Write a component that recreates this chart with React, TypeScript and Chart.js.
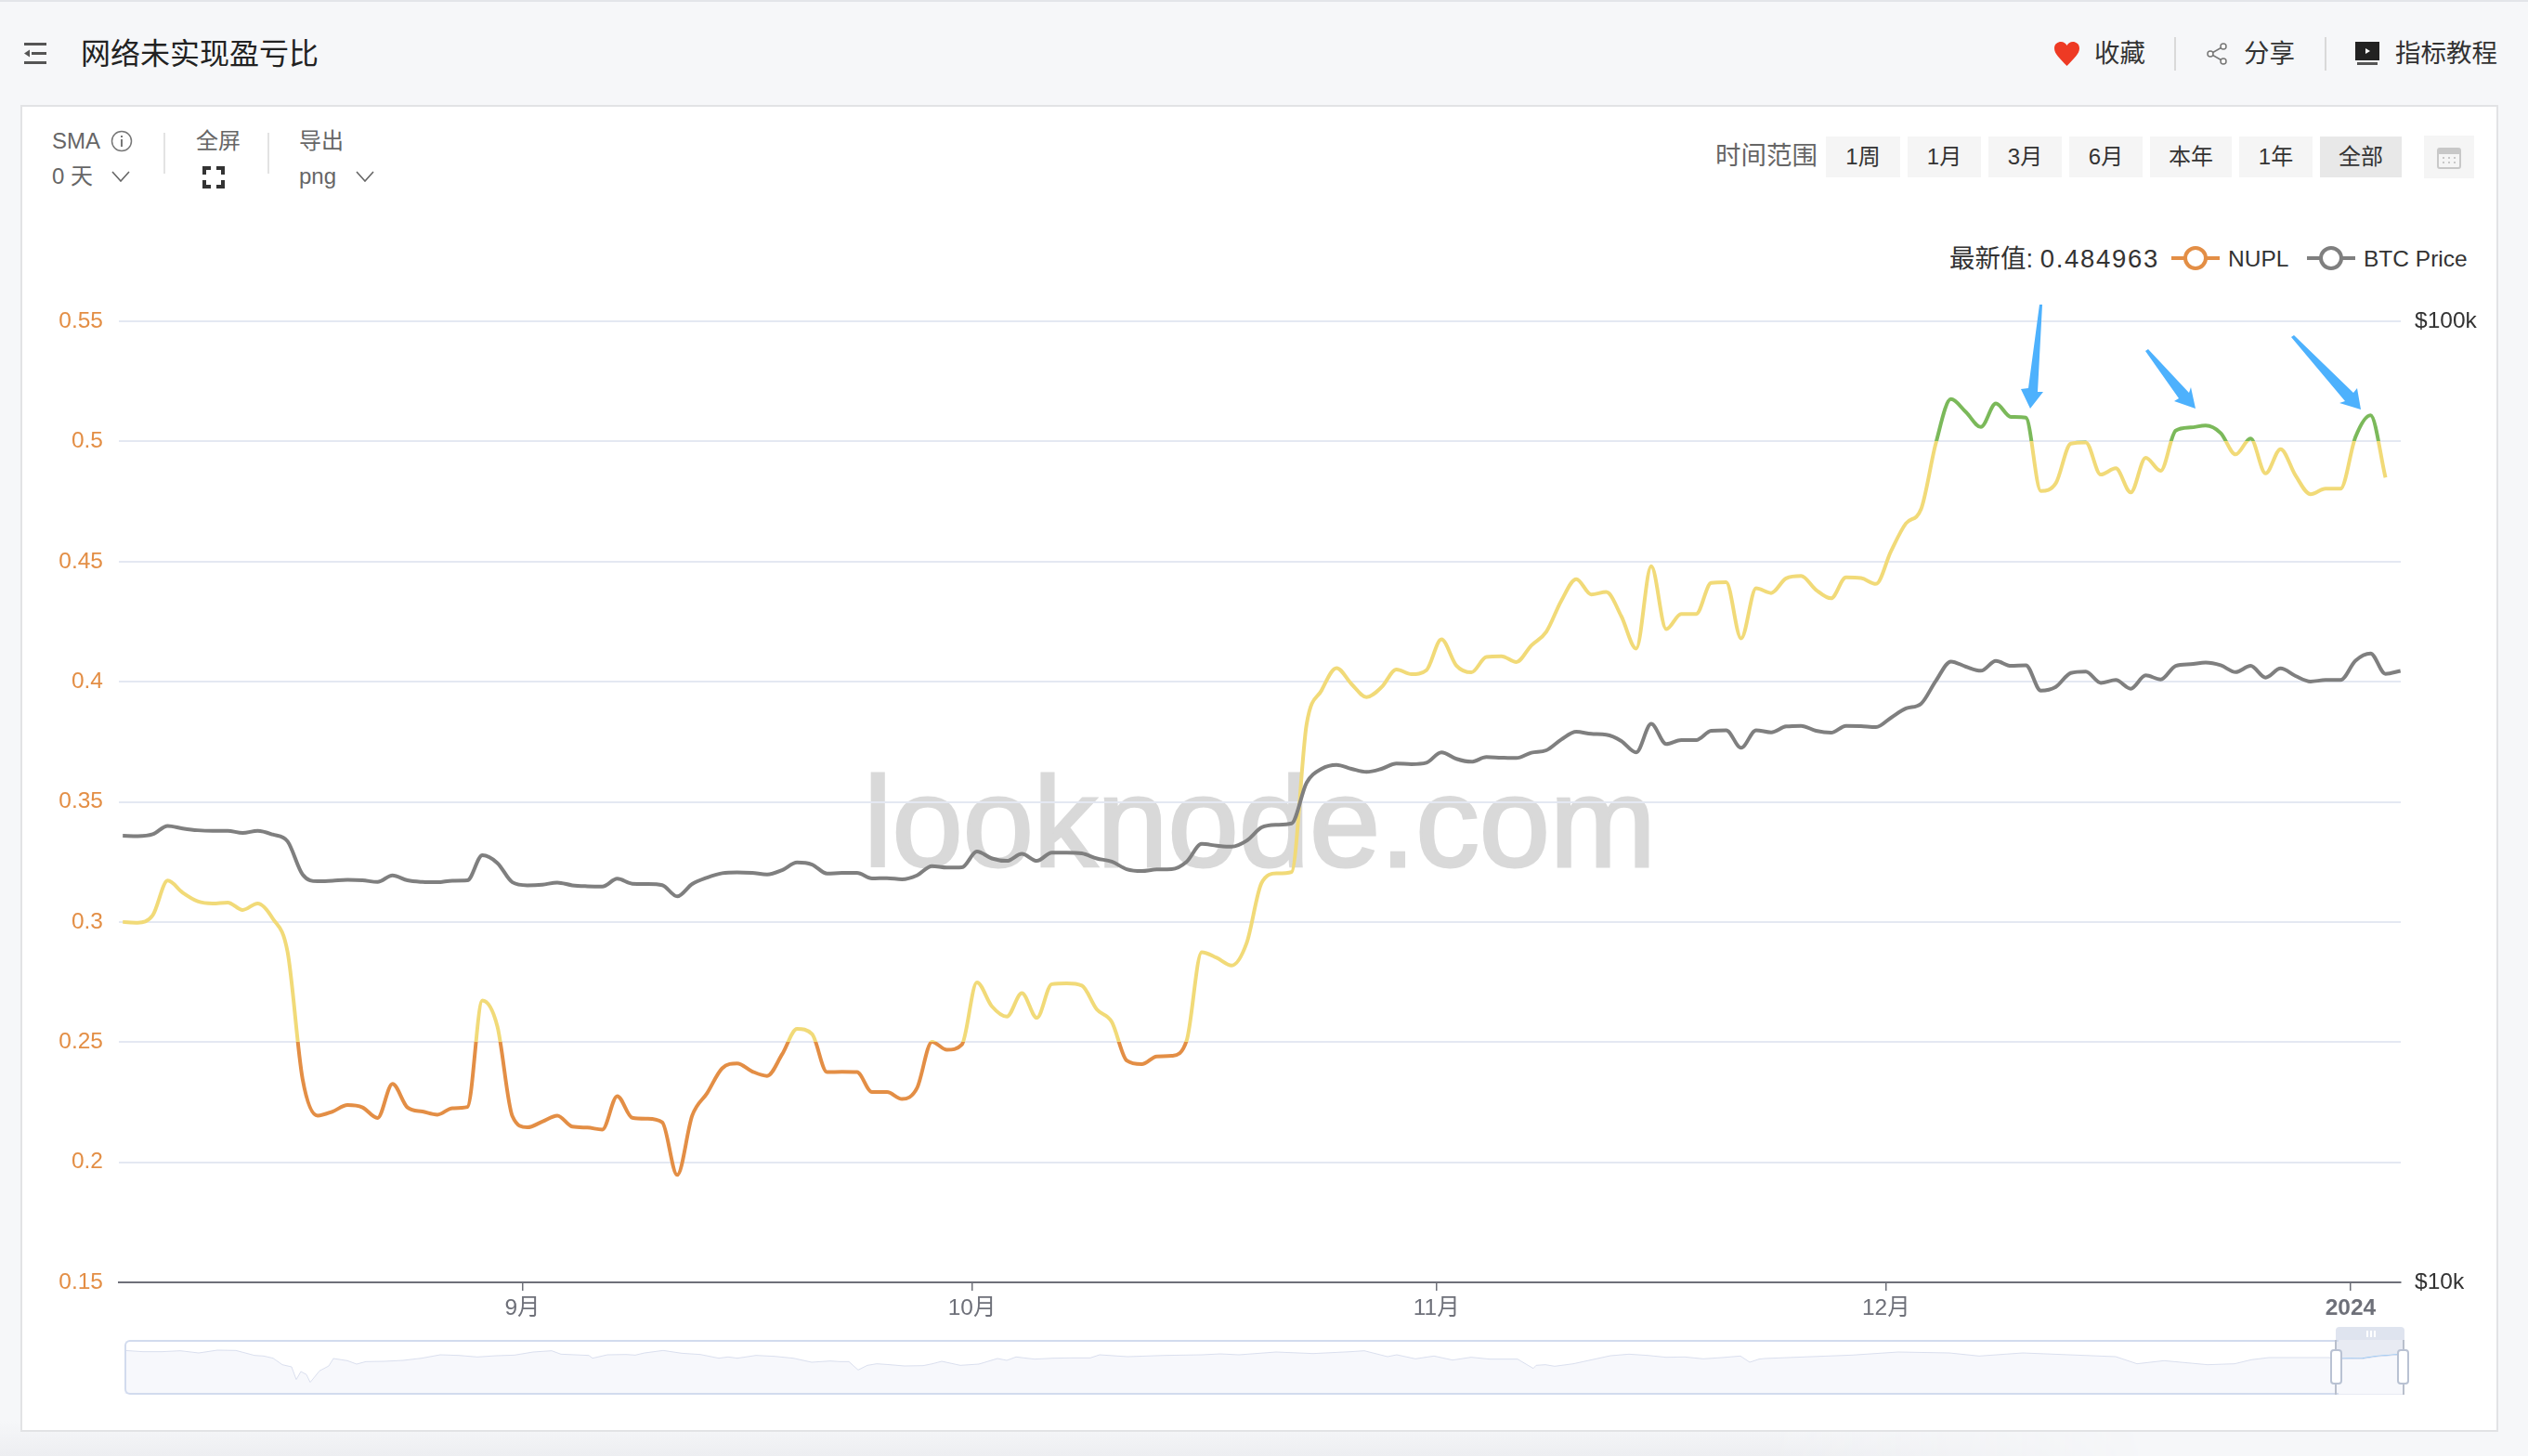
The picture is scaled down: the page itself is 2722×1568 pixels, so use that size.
import React, { useEffect, useRef } from 'react';
import { Chart, registerables } from 'chart.js';

Chart.register(...registerables);

const FONT = '"Liberation Sans", "Noto Sans CJK SC", sans-serif';

// daily data, first point is 27 days before 1 Sep 2023
const firstDay = -27;
const nuplValues = [
  0.3, 0.2997, 0.3028, 0.3172, 0.3122, 0.3086, 0.3077, 0.3081, 0.305, 0.3077, 0.3015, 0.2874, 0.2346, 0.2194, 0.2211,
  0.2238, 0.2228, 0.2184, 0.2326, 0.2228, 0.2211, 0.2198, 0.2225, 0.223, 0.2673, 0.2565, 0.2192,
  0.2145, 0.2169, 0.2194, 0.2148, 0.2144, 0.2136, 0.2275, 0.2185, 0.2181, 0.2166, 0.1947, 0.2194, 0.2288, 0.2391, 0.2411,
  0.2378, 0.2359, 0.2449, 0.2555, 0.2533, 0.2375, 0.2376, 0.2375, 0.2292, 0.2292, 0.2263, 0.2308, 0.2501, 0.2468, 0.249,
  0.2748, 0.2649, 0.2606, 0.2704, 0.2601, 0.2741, 0.2744, 0.2735, 0.2636, 0.2584, 0.2423, 0.2408, 0.244, 0.2443, 0.2507,
  0.2874, 0.2851, 0.2819, 0.2912, 0.3163, 0.3202, 0.3208,
  0.3822, 0.3964, 0.4057, 0.399, 0.3936, 0.3977, 0.4051, 0.4031, 0.4048, 0.4176, 0.4067, 0.4039, 0.4103, 0.4106, 0.4082,
  0.4151, 0.4208, 0.4337, 0.4427, 0.4363, 0.4373, 0.4273, 0.4138, 0.4481, 0.4219, 0.4282, 0.4282, 0.4411, 0.4414, 0.418,
  0.4389, 0.4369, 0.443, 0.444, 0.4382, 0.4347, 0.4434, 0.4431, 0.4407, 0.4543,
  0.4659, 0.4717, 0.4994, 0.5176, 0.5122, 0.506, 0.5158, 0.5102, 0.5099, 0.4794, 0.4826, 0.4991, 0.4996, 0.4862, 0.4888,
  0.4788, 0.4932, 0.4878, 0.5045, 0.5058, 0.5066, 0.5035, 0.4946, 0.5012, 0.4867, 0.4968, 0.4858, 0.478, 0.4803, 0.4803,
  0.5019, 0.5109, 0.484963,
];
const btcValues = [
  29150, 29130, 29260, 29850, 29670, 29540, 29500, 29500, 29350, 29500, 29240, 28760, 26570, 26140, 26180, 26230, 26200,
  26100, 26510, 26200, 26100, 26080, 26180, 26200, 27820, 27310, 26080,
  25890, 25930, 26060, 25890, 25830, 25810, 26300, 25990, 25970, 25900, 25210, 25970, 26375, 26650, 26710,
  26670, 26570, 26850, 27350, 27210, 26630, 26670, 26670, 26320, 26340, 26260, 26510, 27110, 27010, 27030,
  28070, 27610, 27450, 27920, 27450, 28000, 28000, 27950, 27610, 27400, 26910, 26790, 26890, 26910, 27400,
  28590, 28470, 28400, 28810, 29740, 29930, 30030,
  33100, 34220, 34550, 34220, 33970, 34220, 34660, 34610, 34730, 35600, 35050, 34810, 35200, 35150, 35120,
  35570, 35780, 36720, 37410, 37210, 37130, 36590, 35600, 38110, 36320, 36670, 36670, 37490, 37540, 35990,
  37540, 37350, 37880, 37940, 37490, 37320, 37940, 37910, 37820, 38680,
  39550, 39990, 42270, 44260, 43710, 43290, 44320, 43800, 43860, 41280, 41650, 43060, 43210, 42050, 42340,
  41470, 42810, 42400, 43800, 43980, 44150, 43860, 43150, 43800, 42590, 43530, 42750, 42190, 42340, 42340,
  44350, 45120, 42970, 43280,
];
const monthTickDays = [0, 30, 61, 91, 122];
const monthTickLabels = ['9月', '10月', '11月', '12月', '2024'];
const priceTicks = [10000, 100000];
const priceTickLabels = ['$10k', '$100k'];

// whole-history strip under the chart
const overviewSteps = [
  0, 2, 4, 6, 8, 10, 12, 14, 15, 16, 17, 18, 18.5, 19, 19.6, 20, 21, 22, 22.5, 24, 25, 26, 28, 30, 32, 34, 36, 38, 40, 42, 44,
  46, 47, 50, 50.4, 52, 54, 55, 56, 58, 60, 62, 64, 65, 66, 68, 70, 72, 74, 76, 77, 78, 79, 80, 81, 82, 84, 86, 87, 88, 90,
  92, 94, 95, 96, 98, 100, 102, 104, 105, 108, 112, 116, 118, 120, 124, 128, 132, 133.5, 136, 137, 139, 141, 143, 145, 147,
  150, 151.7, 152, 153, 154, 156, 158, 160, 162, 164, 166, 168, 170, 172, 174, 175, 176, 176.6, 181.6, 186, 191, 196.5,
  199.7, 204.4, 214.4, 216.7, 219.6, 224.3, 227.2, 229, 230.9, 237.4, 238, 241, 242.5, 245.4,
];
const overviewLevels = [
  140, 136, 136, 139, 132, 141, 140, 124, 122, 115, 94, 87, 46, 72, 62, 37, 74, 90, 114, 107, 96, 104, 105, 108, 115, 126, 124,
  119, 123, 125, 135, 139, 128, 124, 115, 126, 127, 125, 132, 140, 131, 127, 115, 119, 115, 124, 121, 115, 102, 106, 104, 104,
  77, 92, 97, 95, 90, 91, 97, 105, 92, 96, 114, 108, 119, 112, 115, 116, 116, 126, 120, 124, 126, 129, 126, 135, 130, 136, 139,
  120, 126, 113, 122, 109, 118, 112, 112, 82, 92, 94, 89, 97, 110, 123, 128, 124, 118, 119, 113, 117, 122, 102, 112, 114, 120,
  125, 135, 132, 122, 132, 120, 97, 107, 94, 97, 110, 117, 117, 112, 113, 120, 127,
];
const selectedFromStep = 238;

const rangeButtons = [
  { label: '1周', left: 1966, width: 80 },
  { label: '1月', left: 2054, width: 79 },
  { label: '3月', left: 2141, width: 79 },
  { label: '6月', left: 2228, width: 79 },
  { label: '本年', left: 2315, width: 88 },
  { label: '1年', left: 2411, width: 79 },
  { label: '全部', left: 2498, width: 88 },
];

const arrows = [
  '2196,328 2199,328 2194,422 2200,422 2186,440 2176,419 2184,418',
  '2310,378 2313,376 2357,423 2359,417 2364,440 2341,432 2346,429',
  '2467,363 2470,361 2534,423 2538,418 2542,441 2519,434 2525,432',
];

function Label({ x, y, size = 24, color = '#333', children, center }: any) {
  return (
    <span
      style={{
        position: 'absolute',
        left: x,
        top: y,
        fontSize: size,
        color,
        whiteSpace: 'nowrap',
        lineHeight: 1,
        transform: center ? 'translate(-50%, -50%)' : 'translateY(-50%)',
      }}
    >
      {children}
    </span>
  );
}

function Divider({ x, top, height, color = '#D9D9D9' }: any) {
  return <div style={{ position: 'absolute', left: x, top, width: 2, height, background: color }} />;
}

function Chevron({ x, y }: any) {
  return (
    <svg style={{ position: 'absolute', left: x, top: y }} width="20" height="12">
      <path d="M1 1 L10 11 L19 1" fill="none" stroke="#666" strokeWidth="1.6" />
    </svg>
  );
}

function LegendIcon({ x, color }: any) {
  return (
    <svg style={{ position: 'absolute', left: x, top: 264 }} width="52" height="28">
      <line x1="0" y1="14" x2="52" y2="14" stroke={color} strokeWidth="4" />
      <circle cx="26" cy="14" r="11" fill="#fff" stroke={color} strokeWidth="4" />
    </svg>
  );
}

function useMainChart(ref: React.RefObject<HTMLCanvasElement | null>) {
  useEffect(() => {
    if (!ref.current) return;
    const toPoints = (values: number[]) => values.map((y, i) => ({ x: firstDay + i + 0.33, y }));

    const chart = new Chart(ref.current, {
      type: 'line',
      data: {
        datasets: [
          {
            label: 'BTC Price',
            data: toPoints(btcValues),
            yAxisID: 'y1',
            borderColor: '#7F7F7F',
            borderWidth: 4,
            pointRadius: 0,
            cubicInterpolationMode: 'monotone',
            order: 0,
          },
          {
            label: 'NUPL',
            data: toPoints(nuplValues),
            yAxisID: 'y',
            // hard colour bands at 0.25 and 0.5
            borderColor: (c: any) => {
              const { chart: ch } = c;
              if (!ch.chartArea) return '#F2DA73';
              const y = ch.scales.y;
              const top = ch.chartArea.top;
              const h = ch.chartArea.bottom - top;
              const at5 = (y.getPixelForValue(0.5) - top) / h;
              const at25 = (y.getPixelForValue(0.25) - top) / h;
              const g = ch.ctx.createLinearGradient(0, top, 0, ch.chartArea.bottom);
              g.addColorStop(0, '#7BB95A');
              g.addColorStop(at5, '#7BB95A');
              g.addColorStop(at5, '#F1DA78');
              g.addColorStop(at25, '#F1DA78');
              g.addColorStop(at25, '#E38E45');
              g.addColorStop(1, '#E38E45');
              return g;
            },
            borderWidth: 4,
            pointRadius: 0,
            cubicInterpolationMode: 'monotone',
            order: 1,
          },
        ],
      },
      options: {
        responsive: false,
        animation: false,
        devicePixelRatio: 1,
        layout: { padding: { top: 346, left: 0, right: 0, bottom: 0 } },
        plugins: { legend: { display: false }, tooltip: { enabled: false } },
        scales: {
          x: {
            type: 'linear',
            min: -26.93,
            max: 125.35,
            afterFit: (s: any) => { s.height = 187; },
            afterBuildTicks: (s: any) => { s.ticks = monthTickDays.map((value) => ({ value })); },
            border: { color: '#6E7079', width: 2 },
            grid: { drawOnChartArea: false, drawTicks: true, tickLength: 9, tickColor: '#6E7079', lineWidth: 1.5 },
            ticks: {
              autoSkip: false,
              maxRotation: 0,
              padding: 5,
              color: '#6E7079',
              font: (c: any) => ({ family: FONT, size: 24.5, weight: c.index === 4 ? 'bold' : 'normal' }),
              callback: (_v: any, i: number) => monthTickLabels[i],
            },
          },
          y: {
            min: 0.15,
            max: 0.55,
            afterFit: (s: any) => { s.width = 128; },
            border: { display: false },
            grid: { color: '#E4E8F2', lineWidth: 2, drawTicks: false },
            ticks: {
              stepSize: 0.05,
              padding: 17,
              color: '#E38E45',
              font: { family: FONT, size: 24.5 },
              callback: (v: any) => String(Number(Number(v).toFixed(2))),
            },
          },
          y1: {
            type: 'logarithmic',
            position: 'right',
            min: 10000,
            max: 100000,
            afterFit: (s: any) => { s.width = 137; },
            afterBuildTicks: (s: any) => { s.ticks = priceTicks.map((value) => ({ value })); },
            border: { display: false },
            grid: { drawOnChartArea: false, drawTicks: false },
            ticks: {
              padding: 15,
              color: '#333',
              font: { family: FONT, size: 24.5 },
              callback: (_v: any, i: number) => priceTickLabels[i],
            },
          },
        },
      },
    });
    return () => chart.destroy();
  }, []);
}

function useOverviewChart(ref: React.RefObject<HTMLCanvasElement | null>) {
  useEffect(() => {
    if (!ref.current) return;
    const points = overviewSteps.map((x, i) => ({ x, y: overviewLevels[i] }));
    const chart = new Chart(ref.current, {
      type: 'line',
      data: {
        datasets: [
          {
            data: points,
            borderColor: '#DADFEE',
            borderWidth: 1,
            backgroundColor: '#F7F8FC',
            fill: 'origin',
            pointRadius: 0,
            tension: 0,
          },
          {
            data: points.filter((p) => p.x >= selectedFromStep),
            borderColor: '#7CBCF5',
            borderWidth: 2,
            backgroundColor: '#CFDAEE',
            fill: 'origin',
            pointRadius: 0,
            tension: 0,
          },
        ],
      },
      options: {
        responsive: false,
        animation: false,
        devicePixelRatio: 1,
        plugins: { legend: { display: false }, tooltip: { enabled: false } },
        scales: {
          x: { type: 'linear', min: 0, max: 245.4, display: false },
          y: { min: 0, max: 174, display: false },
        },
      },
    });
    return () => chart.destroy();
  }, []);
}

export default function App() {
  const mainRef = useRef<HTMLCanvasElement>(null);
  const overviewRef = useRef<HTMLCanvasElement>(null);
  useMainChart(mainRef);
  useOverviewChart(overviewRef);

  return (
    <div style={{ position: 'relative', width: 2722, height: 1568, overflow: 'hidden', background: '#F6F7F9', fontFamily: FONT }}>
      <style>{'body{margin:0}'}</style>
      <div style={{ position: 'absolute', left: 0, top: 0, width: 2722, height: 2, background: '#E3E5E9' }} />
      <div
        style={{
          position: 'absolute',
          left: 0,
          top: 1530,
          width: 2722,
          height: 38,
          background: 'linear-gradient(to bottom, #F6F7F9, #EDEEF1)',
          WebkitMaskImage: 'linear-gradient(to right, #000 70%, transparent 85%)',
        }}
      />

      {/* header */}
      <svg style={{ position: 'absolute', left: 26, top: 45 }} width="24" height="26">
        <rect x="0" y="1" width="24" height="3" fill="#555" />
        <rect x="8" y="11" width="16" height="3" fill="#555" />
        <rect x="0" y="21" width="24" height="3" fill="#555" />
        <path d="M0 12.5 L6 8.5 L6 16.5 Z" fill="#555" />
      </svg>
      <Label x={87} y={58} size={32} color="#222">网络未实现盈亏比</Label>

      <svg style={{ position: 'absolute', left: 2212, top: 45 }} width="27" height="26" viewBox="0 0 27 26">
        <path d="M13.5 26 C6 18 0 13 0 7 C0 2 4 0 7 0 C10 0 12.5 2 13.5 4 C14.5 2 17 0 20 0 C23 0 27 2 27 7 C27 13 21 18 13.5 26 Z" fill="#EE3A24" />
      </svg>
      <Label x={2255} y={58} size={27.5}>收藏</Label>
      <Divider x={2341} top={40} height={36} />
      <svg style={{ position: 'absolute', left: 2376, top: 46 }} width="22" height="24">
        <path d="M18 4 L4 12 L18 20" fill="none" stroke="#777" strokeWidth="1.5" />
        <circle cx="18" cy="4" r="3" fill="#fff" stroke="#777" strokeWidth="1.5" />
        <circle cx="4" cy="12" r="3" fill="#fff" stroke="#777" strokeWidth="1.5" />
        <circle cx="18" cy="20" r="3" fill="#fff" stroke="#777" strokeWidth="1.5" />
      </svg>
      <Label x={2416} y={58} size={27.5}>分享</Label>
      <Divider x={2503} top={40} height={36} />
      <svg style={{ position: 'absolute', left: 2536, top: 45 }} width="26" height="26">
        <rect x="0" y="0" width="26" height="20" fill="#222" />
        <rect x="2" y="22" width="22" height="3" fill="#555" />
        <path d="M11 7 L16 10 L11 13 Z" fill="#fff" />
      </svg>
      <Label x={2579} y={58} size={27.5}>指标教程</Label>

      {/* panel */}
      <div style={{ position: 'absolute', left: 22, top: 113, width: 2664, height: 1425, background: '#fff', border: '2px solid #E2E3E5' }} />

      <Label x={56} y={152} color="#666">SMA</Label>
      <svg style={{ position: 'absolute', left: 119, top: 140 }} width="24" height="24">
        <circle cx="12" cy="12" r="10.5" fill="none" stroke="#777" strokeWidth="1.5" />
        <rect x="11" y="10" width="2" height="8" fill="#777" />
        <rect x="11" y="6" width="2" height="2" fill="#777" />
      </svg>
      <Label x={56} y={190} color="#666">0 天</Label>
      <Chevron x={120} y={184} />
      <Divider x={176} top={143} height={44} color="#E3E3E3" />
      <Label x={211} y={152} color="#666">全屏</Label>
      <svg style={{ position: 'absolute', left: 218, top: 179 }} width="24" height="24">
        <path d="M2 9 V2 H9 M15 2 H22 V9 M22 15 V22 H15 M9 22 H2 V15" fill="none" stroke="#333" strokeWidth="4" />
      </svg>
      <Divider x={288} top={143} height={44} color="#E3E3E3" />
      <Label x={322} y={152} color="#666">导出</Label>
      <Label x={322} y={190} color="#666">png</Label>
      <Chevron x={383} y={184} />

      <Label x={1847} y={168} size={27.5} color="#666">时间范围</Label>
      {rangeButtons.map((b) => (
        <div
          key={b.label}
          style={{
            position: 'absolute',
            left: b.left,
            top: 147,
            width: b.width,
            height: 44,
            lineHeight: '44px',
            textAlign: 'center',
            fontSize: 24,
            color: '#333',
            background: b.label === '全部' ? '#E8E8E8' : '#F5F5F5',
          }}
        >
          {b.label}
        </div>
      ))}
      <div style={{ position: 'absolute', left: 2610, top: 146, width: 54, height: 46, background: '#F5F5F5' }} />
      <svg style={{ position: 'absolute', left: 2624, top: 157 }} width="26" height="25">
        <rect x="1" y="3" width="24" height="21" rx="2" fill="none" stroke="#C8C8C8" strokeWidth="2" />
        <rect x="1" y="3" width="24" height="6" fill="#C8C8C8" />
        <path d="M6 13 H8 M12 13 H14 M18 13 H20 M6 18 H8 M12 18 H14 M18 18 H20" stroke="#C8C8C8" strokeWidth="2" />
      </svg>

      {/* legend */}
      <Label x={2099} y={279} size={27.5} color="#333">
        最新值: <span style={{ letterSpacing: 1.7 }}>0.484963</span>
      </Label>
      <LegendIcon x={2338} color="#E38E45" />
      <Label x={2399} y={279} size={24.5} color="#333">NUPL</Label>
      <LegendIcon x={2484} color="#7F7F7F" />
      <Label x={2545} y={279} size={24.5} color="#333">BTC Price</Label>

      {/* watermark sits behind the transparent chart canvas */}
      <span
        style={{
          position: 'absolute',
          left: 930,
          top: 886,
          fontSize: 137,
          lineHeight: 0,
          color: '#D9D9D9',
          WebkitTextStroke: '3px #D9D9D9',
          whiteSpace: 'nowrap',
        }}
      >
        looknode.com
      </span>

      <canvas ref={mainRef} width={2722} height={1568} style={{ position: 'absolute', left: 0, top: 0, width: 2722, height: 1568 }} />

      <svg style={{ position: 'absolute', left: 0, top: 0 }} width="2722" height="1568">
        {arrows.map((p) => <polygon key={p} points={p} fill="#4DB1FD" />)}
      </svg>

      {/* overview strip: border goes over the chart so the fill can't hide it */}
      <div style={{ position: 'absolute', left: 2515, top: 1443, width: 73, height: 59, background: '#E8EBF3' }} />
      <canvas ref={overviewRef} width={2454} height={58} style={{ position: 'absolute', left: 134, top: 1443, width: 2454, height: 58 }} />
      <div style={{ position: 'absolute', left: 134, top: 1443, width: 2382, height: 55, border: '2px solid #D2DBEE', borderRight: 'none', borderRadius: '6px 0 0 6px', boxSizing: 'content-box' }} />
      <div style={{ position: 'absolute', left: 2515, top: 1429, width: 74, height: 14, background: '#DFE4EF', borderRadius: '4px 4px 0 0' }} />
      <div style={{ position: 'absolute', left: 2548, top: 1433, width: 2, height: 7, background: '#fff', boxShadow: '4px 0 0 #fff, 8px 0 0 #fff' }} />
      <div style={{ position: 'absolute', left: 2514, top: 1443, width: 2, height: 59, background: '#B9BFCC' }} />
      <div style={{ position: 'absolute', left: 2587, top: 1443, width: 2, height: 59, background: '#B9BFCC' }} />
      {[2509, 2581].map((x) => (
        <div
          key={x}
          style={{ position: 'absolute', left: x, top: 1453, width: 9, height: 34, background: '#fff', border: '2px solid #B9C2D3', borderRadius: 4 }}
        />
      ))}
    </div>
  );
}
